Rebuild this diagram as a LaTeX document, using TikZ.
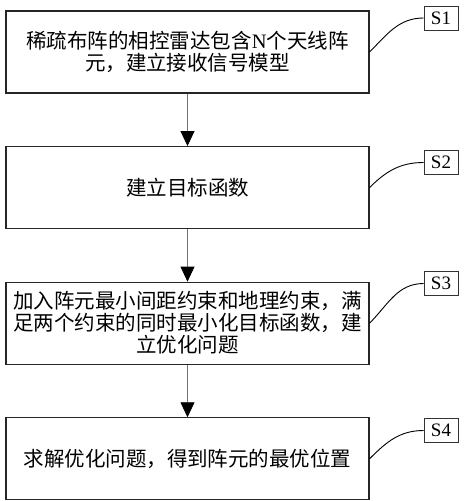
\documentclass[tikz,border=0pt]{standalone}
\usepackage{fontspec}
\setmainfont{Liberation Serif}
\newfontfamily\cjk{Noto Sans CJK SC}
\usetikzlibrary{positioning,arrows.meta}

\tikzset{
	stepbox/.style={draw=black!85, line width=1.1pt, minimum width=363pt, minimum height=82pt,
		inner sep=2pt, align=center, font=\cjk\fontsize{20.5}{22}\selectfont},
	steplabel/.style={draw=black!80, line width=0.8pt, minimum width=34pt, minimum height=24pt,
		inner sep=0pt, font=\fontsize{19}{20}\selectfont},
	flow/.style={draw=black!55, line width=0.8pt, -{Triangle[width=14pt,length=15pt,color=black]}},
	link/.style={draw=black, line width=0.9pt}
}

\begin{document}
\begin{tikzpicture}[node distance=52.5pt]

	\useasboundingbox (0pt,0pt) rectangle (474pt,-501pt);

	% boxes
	\node[stepbox] (box1) at (187.5pt,-52pt) {稀疏布阵的相控雷达包含{\rmfamily N}个天线阵\\元，建立接收信号模型};
	\node[stepbox, below=of box1] (box2) {建立目标函数};
	\node[stepbox, below=of box2] (box3) {加入阵元最小间距约束和地理约束，满\\足两个约束的同时最小化目标函数，建\\立优化问题};
	\node[stepbox, below=of box3] (box4) {求解优化问题，得到阵元的最优位置};

	% labels
	\node[steplabel] (s1) at (441pt,-18pt) {S1};
	\node[steplabel] (s2) at (441pt,-162.5pt) {S2};
	\node[steplabel] (s3) at (441pt,-283.5pt) {S3};
	\node[steplabel] (s4) at (441pt,-430.5pt) {S4};

	%draw arrows
	\draw[flow] (box1) -- (box2);
	\draw[flow] (box2) -- (box3);
	\draw[flow] (box3) -- (box4);

	%draw label links
	\draw[link] (box1.east) to[out=45, in=180] (s1.west);
	\draw[link] (box2.east) to[out=45, in=180] (s2.west);
	\draw[link] (box3.east) to[out=45, in=180] (s3.west);
	\draw[link] (box4.east) to[out=45, in=180] (s4.west);

\end{tikzpicture}
\end{document}
